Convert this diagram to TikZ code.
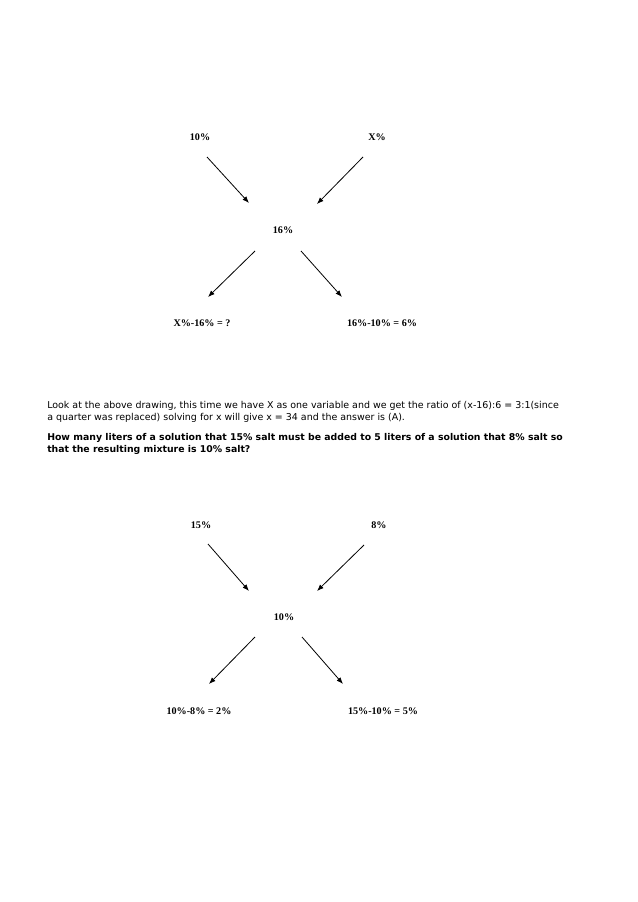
\documentclass[tikz,border=0pt]{standalone}
\usepackage{fontspec}
\setmainfont{Liberation Serif}
\newfontfamily\verd{DejaVu Sans}
\usetikzlibrary{arrows.meta}

\begin{document}
\begin{tikzpicture}[x=0.75pt, y=-0.75pt,
				pct/.style={font=\fontsize{7.6}{9}\selectfont\bfseries, inner sep=0pt},
				para/.style={font=\verd\fontsize{7.1}{8.6}\selectfont, align=left, anchor=base west, inner sep=0pt},
				arr/.style={-{Latex[length=5pt, width=3.8pt]}, line width=0.6pt}
			]
			\useasboundingbox (0,0) rectangle (638,902);
			% first cross
			\node[pct] (topl) at (200,137) {10\%};
			\node[pct] (topr) at (377,137) {X\%};
			\node[pct] (mid) at (283,230) {16\%};
			\node[pct] (botl) at (202,323) {X\%-16\% = ?};
			\node[pct] (botr) at (382,323) {16\%-10\% = 6\%};
			\begin{scope}[arr]
			\draw ([shift={(7,20)}]topl.center) -- ([shift={(-34,-27)}]mid.center);
			\draw ([shift={(-14,20)}]topr.center) -- ([shift={(34,-26)}]mid.center);
			\draw ([shift={(-28,21)}]mid.center) -- ([shift={(6,-26)}]botl.center);
			\draw ([shift={(18,21)}]mid.center) -- ([shift={(-40,-26)}]botr.center);
			\end{scope}
			% text
			\node[para] (note) at (47,420) {Look at the above drawing, this time we have X as one variable and we get the ratio of (x-16):6 = 3:1(since\\a quarter was replaced) solving for x will give x = 34 and the answer is (A).};
			\node[para, font=\verd\bfseries\fontsize{7}{8.6}\selectfont] (question) at (47,452) {How many liters of a solution that 15\% salt must be added to 5 liters of a solution that 8\% salt so\\that the resulting mixture is 10\% salt?};
			% second cross
			\node[pct] (topl2) at (201,525) {15\%};
			\node[pct] (topr2) at (379,525) {8\%};
			\node[pct] (mid2) at (284,617) {10\%};
			\node[pct] (botl2) at (199,711) {10\%-8\% = 2\%};
			\node[pct] (botr2) at (383,711) {15\%-10\% = 5\%};
			\begin{scope}[arr]
			\draw ([shift={(7,19)}]topl2.center) -- ([shift={(-35,-26)}]mid2.center);
			\draw ([shift={(-15,20)}]topr2.center) -- ([shift={(33,-26)}]mid2.center);
			\draw ([shift={(-29,20)}]mid2.center) -- ([shift={(10,-27)}]botl2.center);
			\draw ([shift={(18,20)}]mid2.center) -- ([shift={(-40,-27)}]botr2.center);
			\end{scope}
\end{tikzpicture}
\end{document}
